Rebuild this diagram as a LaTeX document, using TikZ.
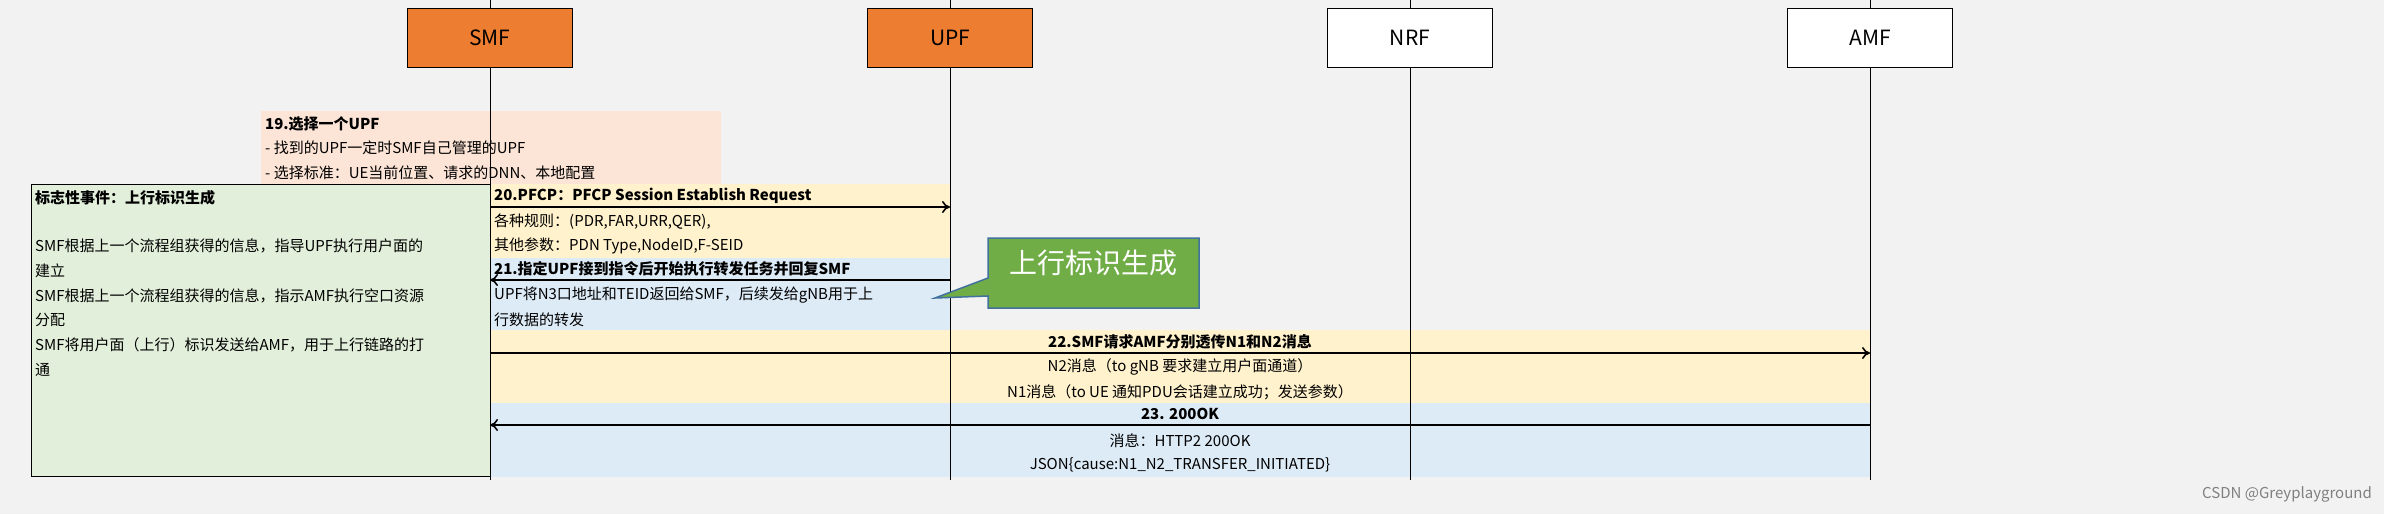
\documentclass[tikz,border=0pt]{standalone}
\usepackage{fontspec}
\setmainfont{Noto Sans CJK SC}
\usetikzlibrary{arrows.meta}
\definecolor{bg}{HTML}{F2F2F2}
\definecolor{peach}{HTML}{FCE4D6}
\definecolor{lgreen}{HTML}{E2EFDA}
\definecolor{lyellow}{HTML}{FFF2CC}
\definecolor{lblue}{HTML}{DDEBF7}
\definecolor{orng}{HTML}{ED7D31}
\definecolor{cgreen}{HTML}{70AD47}
\definecolor{cblue}{HTML}{41719C}
\tikzset{
  actor/.style={draw=black, line width=1.2pt, minimum width=165pt, minimum height=59pt, font=\fontsize{21}{24}\selectfont, inner sep=0pt},
  txt/.style={anchor=west, inner sep=0pt, font=\fontsize{15}{17}\selectfont},
  btxt/.style={txt, font=\fontsize{15}{17}\selectfont\bfseries},
  ctxt/.style={anchor=center, inner sep=0pt, font=\fontsize{15}{17}\selectfont},
  bctxt/.style={ctxt, font=\fontsize{15}{17}\selectfont\bfseries},
  msg/.style={line width=1.6pt, -{To[length=8pt,width=12pt]}},
  life/.style={line width=1pt}
}
\begin{document}
\begin{tikzpicture}[x=1pt,y=-1pt]
\fill[bg] (0,0) rectangle (2384,514);
\useasboundingbox (0,0) rectangle (2384,514);
% backgrounds
\fill[peach] (261,111) rectangle (721,184);
\fill[lyellow] (490,184) rectangle (950,258);
\fill[lblue] (490,258) rectangle (950,330);
\fill[lyellow] (490,330) rectangle (1870,403);
\fill[lblue] (490,403) rectangle (1870,477);
\draw[fill=lgreen, line width=1pt] (31,184) rectangle (490,476);
% lifelines
\coordinate (s0) at (490,0); \coordinate (s1) at (490,480);
\coordinate (u0) at (950,0); \coordinate (u1) at (950,480);
\coordinate (n0) at (1410,0); \coordinate (n1) at (1410,480);
\coordinate (a0) at (1870,0); \coordinate (a1) at (1870,480);
\draw[life] (s0) -- (s1); \draw[life] (u0) -- (u1);
\draw[life] (n0) -- (n1); \draw[life] (a0) -- (a1);
% actors
\node[actor, fill=orng] (smf) at (490,38) {SMF};
\node[actor, fill=orng] (upf) at (950,38) {UPF};
\node[actor, fill=white] (nrf) at (1410,38) {NRF};
\node[actor, fill=white] (amf) at (1870,38) {AMF};
% 19
\node[btxt] (t19) at (265,124) {19.选择一个UPF};
\node[txt] (t19a) at (265,148) {- 找到的UPF一定时SMF自己管理的UPF};
\node[txt] (t19b) at (265,173) {- 选择标准：UE当前位置、请求的DNN、本地配置};
% green box
\node[btxt] (g0) at (35,198) {标志性事件：上行标识生成};
\node[txt] (g1) at (35,246) {SMF根据上一个流程组获得的信息，指导UPF执行用户面的};
\node[txt] (g2) at (35,271) {建立};
\node[txt] (g3) at (35,296) {SMF根据上一个流程组获得的信息，指示AMF执行空口资源};
\node[txt] (g4) at (35,320) {分配};
\node[txt] (g5) at (35,345) {SMF将用户面（上行）标识发送给AMF，用于上行链路的打};
\node[txt] (g6) at (35,370) {通};
% 20
\coordinate (m20s) at (490,207); \coordinate (m20u) at (950,207);
\draw[msg] (m20s) -- (m20u);
\node[btxt] (t20) at (494,196) {20.PFCP：PFCP Session Establish Request};
\node[txt] (t20a) at (494,222) {各种规则：(PDR,FAR,URR,QER),};
\node[txt] (t20b) at (494,246) {其他参数：PDN Type,NodeID,F-SEID};
% 21
\coordinate (m21s) at (490,280); \coordinate (m21u) at (950,280);
\draw[msg] (m21u) -- (m21s);
\node[btxt] (t21) at (494,269) {21.指定UPF接到指令后开始执行转发任务并回复SMF};
\node[txt] (t21a) at (494,295) {UPF将N3口地址和TEID返回给SMF，后续发给gNB用于上};
\node[txt] (t21b) at (494,320) {行数据的转发};
% callout
\draw[fill=cgreen, draw=cblue, line width=1.5pt] (988,238) -- (1199,238) -- (1199,308) -- (988,308) -- (988,296) -- (935,298) -- (988,278) -- cycle;
\node[anchor=center, inner sep=0pt, text=white, font=\fontsize{28}{32}\selectfont] (co) at (1093,263) {上行标识生成};
% 22
\coordinate (m22s) at (490,353); \coordinate (m22a) at (1870,353);
\draw[msg] (m22s) -- (m22a);
\node[bctxt] (t22) at (1180,342) {22.SMF请求AMF分别透传N1和N2消息};
\node[ctxt] (t22a) at (1180,367) {N2消息（to gNB 要求建立用户面通道）};
\node[ctxt] (t22b) at (1180,392) {N1消息（to UE 通知PDU会话建立成功；发送参数）};
% 23
\coordinate (m23s) at (490,425); \coordinate (m23a) at (1870,425);
\draw[msg] (m23a) -- (m23s);
\node[bctxt] (t23) at (1180,414) {23. 200OK};
\node[ctxt] (t23a) at (1180,441) {消息：HTTP2 200OK};
\node[ctxt] (t23b) at (1180,465) {JSON\{cause:N1\_N2\_TRANSFER\_INITIATED\}};
% watermark
\node[anchor=east, inner sep=0pt, text=gray, font=\fontsize{15}{17}\selectfont] (wm) at (2372,494) {CSDN @Greyplayground};
\end{tikzpicture}
\end{document}
